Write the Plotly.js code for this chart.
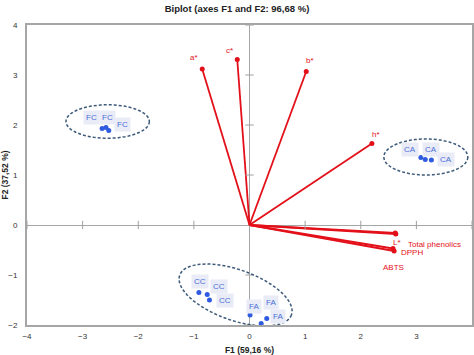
<!DOCTYPE html>
<html><head><meta charset="utf-8">
<script src="https://cdn.plot.ly/plotly-3.0.1.min.js"></script>
<style>html,body{margin:0;padding:0;background:#fff}#c{width:474px;height:355px}</style>
</head><body><div id="c"></div>
<script>
// Observations (scores)
var obsLabels = ["FC","FC","FC","CA","CA","CA","CC","CC","CC","FA","FA","FA"];
var obsX = [-2.65,-2.58,-2.53, 3.08,3.16,3.27, -0.91,-0.76,-0.72, 0.01,0.31,0.21];
var obsY = [1.93,1.95,1.89, 1.35,1.31,1.30, -1.35,-1.39,-1.50, -1.80,-1.87,-1.97];
// Variables (loadings)
var varLabels = ["a*","c*","b*","h*","L*","Total phenolics","DPPH","ABTS"];
var varX = [-0.85,-0.22,1.02,2.20,2.62,2.63,2.58,2.60];
var varY = [3.12,3.31,3.07,1.63,-0.16,-0.18,-0.47,-0.52];
// Group ellipses: center x, center y
var grpNames = ["FC","CA","CCFA"];
var grpCX = [-2.55, 3.17, -0.25];
var grpCY = [2.07, 1.36, -1.40];

// ---- layout/styling (pixel-based) ----
var red = "#e3101a", blue = "#2f5be0";
var obsOff = [[-11,11],[1.6,10.4],[13.4,5.7],[-11,8],[5.3,10.4],[15,0.7],[0.7,10.6],[11.6,7.6],[15.3,-0.3],[3.6,8.3],[4.7,16],[16.6,7.3]];
var varOff = [[-8,12],[-8,9],[4,11],[4,9],[2,-9],[39,-10],[19,-4],[-1,-16]];
// ellipse geometry in pixels: semi-axis a, semi-axis b, rotation (deg, clockwise on screen)
var ellGeom = [[41.7,16.7,0],[42,18,0],[59.3,25.3,19.5]];
var pxX = 445/8, pxY = 300/6;

var traces = [];
var vx = [], vy = [];
for (var i=0;i<varX.length;i++){ vx.push(0,varX[i],null); vy.push(0,varY[i],null); }
traces.push({x:vx,y:vy,mode:"lines",line:{color:red,width:1.8},hoverinfo:"skip",showlegend:false});
traces.push({x:varX,y:varY,mode:"markers",marker:{color:red,size:5},showlegend:false});
traces.push({x:obsX,y:obsY,mode:"markers",marker:{color:blue,size:5},showlegend:false});
var tY=[-2,-1,1,2,3,4], tX=[-4,-3,-2,-1,1,2,3,4];
traces.push({x:tY.map(function(){return 0;}),y:tY,mode:"markers",marker:{symbol:"line-ew",size:6,line:{color:"#a0a0a0",width:1}},hoverinfo:"skip",showlegend:false});
traces.push({x:tX,y:tX.map(function(){return 0;}),mode:"markers",marker:{symbol:"line-ns",size:6,line:{color:"#a0a0a0",width:1}},hoverinfo:"skip",showlegend:false});

var shapes = [];
for (var g=0; g<grpNames.length; g++){
  var a=ellGeom[g][0], b=ellGeom[g][1], th=ellGeom[g][2]*Math.PI/180, p="";
  for (var k=0;k<=72;k++){
    var t=k/72*2*Math.PI;
    var dxs = a*Math.cos(t)*Math.cos(th) - b*Math.sin(t)*Math.sin(th);
    var dys = a*Math.cos(t)*Math.sin(th) + b*Math.sin(t)*Math.cos(th);
    var X = grpCX[g] + dxs/pxX, Y = grpCY[g] - dys/pxY;
    p += (k===0?"M":"L") + X.toFixed(4) + "," + Y.toFixed(4);
  }
  shapes.push({type:"path",path:p+"Z",xref:"x",yref:"y",line:{color:"#3d5a7a",width:1.5,dash:"3px,2px"}});
}

var ann = [];
for (var i=0;i<obsLabels.length;i++){
  ann.push({x:obsX[i],y:obsY[i],text:obsLabels[i],showarrow:false,xshift:obsOff[i][0],yshift:obsOff[i][1],
    font:{family:"Liberation Sans, Arial",size:8,color:"#4a6fd6"},bgcolor:"#e9ebf6",borderpad:2});
}
for (var i=0;i<varLabels.length;i++){
  ann.push({x:varX[i],y:varY[i],text:varLabels[i],showarrow:false,xshift:varOff[i][0],yshift:varOff[i][1],
    font:{family:"Liberation Sans, Arial",size:8,color:red}});
}

var axisCommon = {showgrid:false,zeroline:true,zerolinecolor:"#a6a6a6",zerolinewidth:1,
  showline:true,mirror:true,linecolor:"#a6a6a6",linewidth:2,ticks:"",
  tickfont:{family:"Liberation Sans, Arial",size:8,color:"#333"},dtick:1};

var layout = {
  width:474,height:355,margin:{l:27,r:2,t:25,b:30},
  paper_bgcolor:"#fff",plot_bgcolor:"#fff",showlegend:false,
  title:{text:"<b>Biplot (axes F1 and F2: 96,68 %)</b>",x:0.5,xanchor:"center",y:0.975,yanchor:"middle",
    font:{family:"Liberation Sans, Arial",size:9.5,color:"#222"}},
  xaxis:Object.assign({},axisCommon,{range:[-4,4],ticklabelstandoff:2,title:{text:"<b>F1 (59,16 %)</b>",standoff:8,font:{family:"Liberation Sans, Arial",size:8.5,color:"#222"}}}),
  yaxis:Object.assign({},axisCommon,{range:[-2,4],ticklabelstandoff:6,title:{text:"<b>F2 (37,52 %)</b>",standoff:2,font:{family:"Liberation Sans, Arial",size:8.5,color:"#222"}}}),
  shapes:shapes,annotations:ann
};
Plotly.newPlot("c",traces,layout,{staticPlot:true,displayModeBar:false});
</script></body></html>
